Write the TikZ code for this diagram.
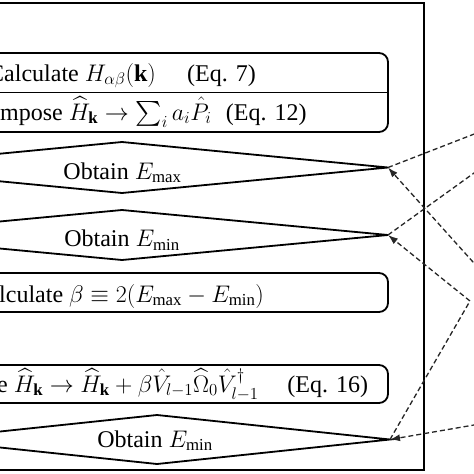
\RequirePackage{fix-cm}
\documentclass[tikz,border=0pt]{standalone}
\usepackage{amsmath}
\usepackage{fontspec}
\setmainfont{Liberation Serif}
\usetikzlibrary{shapes.geometric,arrows.meta}
\begin{document}
\begin{tikzpicture}[x=1pt,y=-1pt,
  frame/.style={draw, line width=1.8pt, outer sep=0pt, inner sep=0pt},
  box/.style={draw, line width=1.8pt, rounded corners=9pt, outer sep=0pt, inner sep=0pt, minimum width=700pt},
  dia/.style={draw, diamond, line width=1.8pt, inner sep=0pt, outer sep=0pt, aspect=10},
  txt/.style={font=\fontsize{24}{28}\selectfont, inner sep=0pt, anchor=base west},
  dl/.style={draw=black!85, line width=1.3pt, dash pattern=on 5pt off 3pt},
  tip/.style={-{Latex[length=10pt,width=7pt]}}
]
\useasboundingbox (0,0) rectangle (474,474);
\fill[white] (0,0) rectangle (474,474);
\clip (0,0) rectangle (474,474);

\node[frame, anchor=north east, minimum width=800pt, minimum height=467pt] (fr) at (424,3) {};
\node[box, anchor=north east, minimum height=79pt] (bA) at (388,53) {};
\draw[line width=1.8pt] (bA.west) -- (bA.east);
\node[box, anchor=north east, minimum height=39pt] (bB) at (388,273) {};
\node[box, anchor=north east, minimum height=38pt] (bC) at (388,365) {};

\node[dia, minimum width=532pt, minimum height=51pt] (d1) at (122,167.5) {};
\node[dia, minimum width=532pt, minimum height=50pt] (d2) at (122,235) {};
\node[dia, minimum width=466pt, minimum height=49pt] (d3) at (157,439.5) {};

\node[txt] (t1) at (-12,81) {Calculate $H_{\alpha\beta}(\mathbf{k})$\hspace{1.3em}(Eq. 7)};
\node[txt] (t2) at (0,120) {mpose $\widehat{H}_{\mathbf{k}}\rightarrow\sum_i a_i\hat{P}_i$\hspace{0.6em}(Eq. 12)};
\node[txt] (t3) at (-1,302) {lculate $\beta\equiv 2(E_{\max}-E_{\min})$};
\node[txt] (t4) at (-3,392) {e $\widehat{H}_{\mathbf{k}}\rightarrow\widehat{H}_{\mathbf{k}}+\beta\hat{V}_{l-1}\widehat{\Omega}_0\hat{V}^{\dagger}_{l-1}$\hspace{1.2em}(Eq. 16)};
\node[txt, anchor=base] (t5) at (122.5,179) {Obtain $E_{\max}$};
\node[txt, anchor=base] (t6) at (122,246.5) {Obtain $E_{\min}$};
\node[txt, anchor=base] (t7) at (155,447) {Obtain $E_{\min}$};

\coordinate (a1) at (500,124);
\coordinate (a2) at (500,154.3);
\coordinate (a3) at (500,292);
\coordinate (k) at (470,301);
\coordinate (a5) at (500,420.5);
\draw[dl] (d1.east) -- (a1);
\draw[dl] (d2.east) -- (a2);
\draw[dl,tip] (a3) -- (d1.east);
\draw[dl,tip] (d3.east) -- (k) -- (d2.east);
\draw[dl,tip] (a5) -- (d3.east);
\end{tikzpicture}
\end{document}
